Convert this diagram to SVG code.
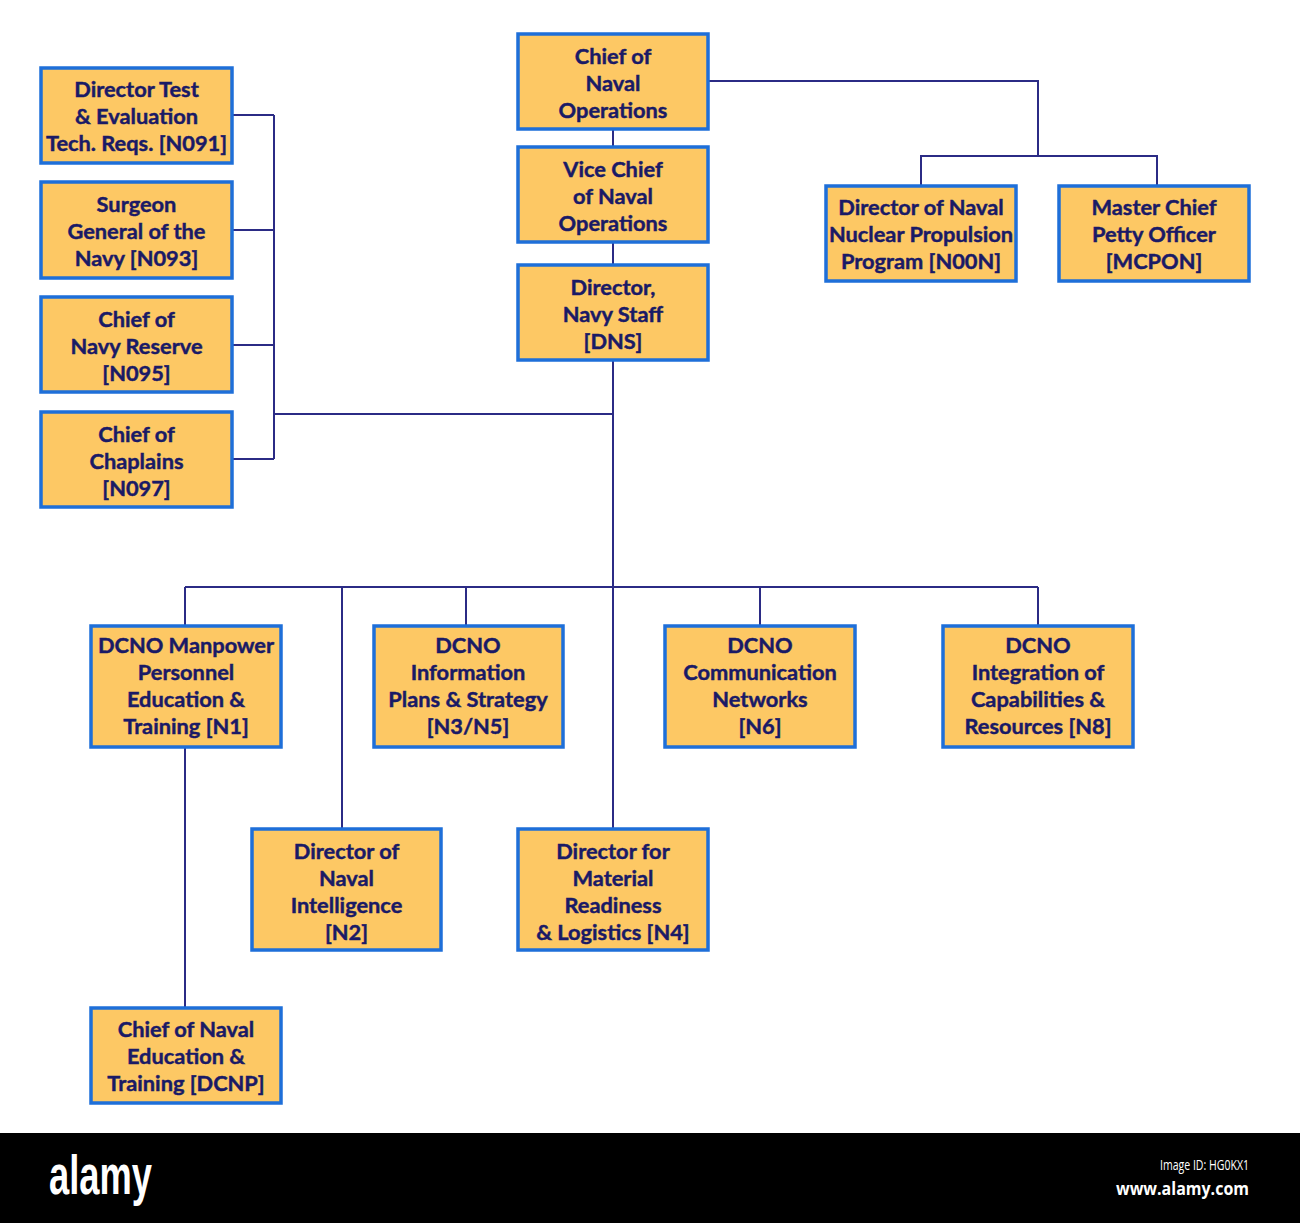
<svg xmlns="http://www.w3.org/2000/svg" width="1300" height="1223" viewBox="0 0 1300 1223">
<style>
.box{fill:#FDC864;stroke:#1E6FD9;stroke-width:3.5}
.t{font-family:Lato,"Open Sans",sans-serif;font-weight:bold;font-size:21.8px;fill:#1A1A66;stroke:#1A1A66;stroke-width:0.45;text-anchor:middle}
.c{fill:none;stroke:#2B2B85;stroke-width:2}
</style>
<rect x="0" y="0" width="1300" height="1223" fill="#FFFFFF"/>
<g id="connectors">
<path class="c" d="M232 115H274M232 230H274M232 345H274M232 459H274M274 115V459M274 414H613"/>
<path class="c" d="M613 129V146M613 242V264M613 360V828"/>
<path class="c" d="M708 81H1038V156M921 185V156H1157V185"/>
<path class="c" d="M185 587H1038M185 587V625M342 587V828M466 587V625M760 587V625M1038 587V625M185 747V1007"/>
</g>
<g id="n091"><rect class="box" x="41" y="68" width="191" height="95"/>
<text class="t" x="136.5" y="97">Director Test</text><text class="t" x="136.5" y="124">&amp; Evaluation</text><text class="t" x="136.5" y="151">Tech. Reqs. [N091]</text></g>
<g id="n093"><rect class="box" x="41" y="182" width="191" height="96"/>
<text class="t" x="136.5" y="212">Surgeon</text><text class="t" x="136.5" y="239">General of the</text><text class="t" x="136.5" y="266">Navy [N093]</text></g>
<g id="n095"><rect class="box" x="41" y="297" width="191" height="95"/>
<text class="t" x="136.5" y="327">Chief of</text><text class="t" x="136.5" y="354">Navy Reserve</text><text class="t" x="136.5" y="381">[N095]</text></g>
<g id="n097"><rect class="box" x="41" y="412" width="191" height="95"/>
<text class="t" x="136.5" y="442">Chief of</text><text class="t" x="136.5" y="469">Chaplains</text><text class="t" x="136.5" y="496">[N097]</text></g>
<g id="cno"><rect class="box" x="518" y="34" width="190" height="95"/>
<text class="t" x="613" y="64">Chief of</text><text class="t" x="613" y="91">Naval</text><text class="t" x="613" y="118">Operations</text></g>
<g id="vcno"><rect class="box" x="518" y="147" width="190" height="95"/>
<text class="t" x="613" y="177">Vice Chief</text><text class="t" x="613" y="204">of Naval</text><text class="t" x="613" y="231">Operations</text></g>
<g id="dns"><rect class="box" x="518" y="265" width="190" height="95"/>
<text class="t" x="613" y="295">Director,</text><text class="t" x="613" y="322">Navy Staff</text><text class="t" x="613" y="349">[DNS]</text></g>
<g id="n00n"><rect class="box" x="826" y="186" width="190" height="95"/>
<text class="t" x="921" y="215">Director of Naval</text><text class="t" x="921" y="242">Nuclear Propulsion</text><text class="t" x="921" y="269">Program [N00N]</text></g>
<g id="mcpon"><rect class="box" x="1059" y="186" width="190" height="95"/>
<text class="t" x="1154" y="215">Master Chief</text><text class="t" x="1154" y="242">Petty Officer</text><text class="t" x="1154" y="269">[MCPON]</text></g>
<g id="n1"><rect class="box" x="91" y="626" width="190" height="121"/>
<text class="t" x="186" y="653">DCNO Manpower</text><text class="t" x="186" y="680">Personnel</text><text class="t" x="186" y="707">Education &amp;</text><text class="t" x="186" y="734">Training [N1]</text></g>
<g id="n3n5"><rect class="box" x="374" y="626" width="189" height="121"/>
<text class="t" x="468" y="653">DCNO</text><text class="t" x="468" y="680">Information</text><text class="t" x="468" y="707">Plans &amp; Strategy</text><text class="t" x="468" y="734">[N3/N5]</text></g>
<g id="n6"><rect class="box" x="665" y="626" width="190" height="121"/>
<text class="t" x="760" y="653">DCNO</text><text class="t" x="760" y="680">Communication</text><text class="t" x="760" y="707">Networks</text><text class="t" x="760" y="734">[N6]</text></g>
<g id="n8"><rect class="box" x="943" y="626" width="190" height="121"/>
<text class="t" x="1038" y="653">DCNO</text><text class="t" x="1038" y="680">Integration of</text><text class="t" x="1038" y="707">Capabilities &amp;</text><text class="t" x="1038" y="734">Resources [N8]</text></g>
<g id="n2"><rect class="box" x="252" y="829" width="189" height="121"/>
<text class="t" x="346.5" y="859">Director of</text><text class="t" x="346.5" y="886">Naval</text><text class="t" x="346.5" y="913">Intelligence</text><text class="t" x="346.5" y="940">[N2]</text></g>
<g id="n4"><rect class="box" x="518" y="829" width="190" height="121"/>
<text class="t" x="613" y="859">Director for</text><text class="t" x="613" y="886">Material</text><text class="t" x="613" y="913">Readiness</text><text class="t" x="613" y="940">&amp; Logistics [N4]</text></g>
<g id="dcnp"><rect class="box" x="91" y="1008" width="190" height="95"/>
<text class="t" x="186" y="1037">Chief of Naval</text><text class="t" x="186" y="1064">Education &amp;</text><text class="t" x="186" y="1091">Training [DCNP]</text></g>
<g id="footer">
<rect x="0" y="1133" width="1300" height="90" fill="#000000"/>
<text x="49" y="1194" font-family="'Liberation Sans Narrow','Liberation Sans',sans-serif" font-weight="bold" font-size="56" fill="#FFFFFF" textLength="103" lengthAdjust="spacingAndGlyphs">alamy</text>
<text x="1249" y="1170" font-family="'Open Sans',sans-serif" font-size="14" fill="#FFFFFF" text-anchor="end" textLength="89" lengthAdjust="spacingAndGlyphs">Image ID: HG0KX1</text>
<text x="1249" y="1195" font-family="'Open Sans',sans-serif" font-weight="bold" font-size="17" fill="#FFFFFF" text-anchor="end" textLength="133" lengthAdjust="spacingAndGlyphs">www.alamy.com</text>
</g>
</svg>
